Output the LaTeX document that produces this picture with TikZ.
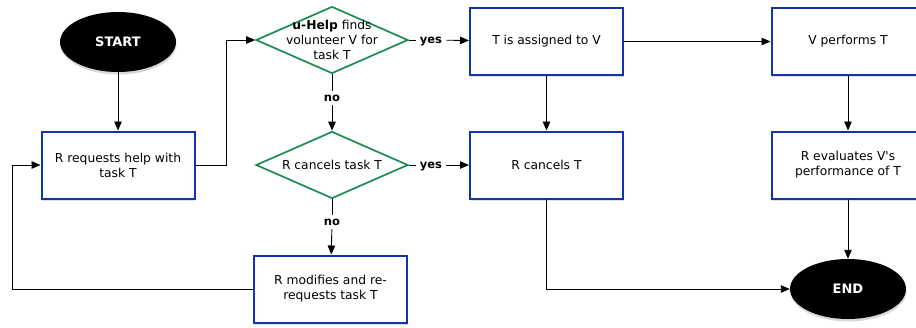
\documentclass[tikz,border=0pt]{standalone}
\usepackage{fontspec}
\setsansfont{DejaVu Sans}
\usetikzlibrary{shapes.geometric,shadows,arrows.meta}
\definecolor{boxblue}{RGB}{16,52,170}
\definecolor{decgreen}{RGB}{28,140,82}

\begin{document}
\begin{tikzpicture}[
x=1pt, y=-1pt,
font=\sffamily\fontsize{12.3}{15}\selectfont,
every node/.style={align=center},
terminal/.style={ellipse, fill=black, text=white, font=\sffamily\bfseries\fontsize{13}{15}\selectfont, minimum width=116pt, minimum height=60pt, drop shadow={shadow xshift=0.5pt, shadow yshift=-2.5pt, opacity=.3}},
process/.style={rectangle, draw=boxblue, line width=2pt, fill=white, minimum width=153pt, minimum height=67pt, drop shadow={shadow xshift=0.5pt, shadow yshift=-2pt, opacity=.25}},
decision/.style={diamond, draw=decgreen, line width=1.7pt, fill=white, aspect=2.27, inner sep=0pt, minimum width=152pt, minimum height=67pt},
answer/.style={font=\sffamily\bfseries\fontsize{11.5}{13}\selectfont, inner sep=4pt, text depth=0pt},
flow/.style={-{Triangle[length=9pt,width=7.5pt]}, line width=0.9pt}
]
\useasboundingbox (0,0) rectangle (916,327);

\node[terminal] (start) at (118,42) {START};
\node[process] (request) at (118,165) {R requests help with\\task T};
\node[decision, label={[align=center]center:{\textbf{u-Help} finds\\volunteer V for\\task T}}] (find) at (332,40) {};
\node[answer] (yesfind) at (431,40) {yes};
\node[answer] (nofind) at (332,98) {no};
\node[decision, label={center:R cancels task T}] (cancel) at (332,165) {};
\node[answer] (yescancel) at (431,165) {yes};
\node[answer] (nocancel) at (332,222) {no};
\node[process] (modify) at (330.5,289) {R modifies and re-\\requests task T};
\node[process] (assign) at (546.5,41.5) {T is assigned to V};
\node[process] (drop) at (546.5,165) {R cancels T};
\node[process] (perform) at (848,41.5) {V performs T};
\node[process] (evaluate) at (848,165) {R evaluates V\textquotesingle s\\performance of T};
\node[terminal] (finish) at (848,289) {END};
\coordinate (back) at (12,289);

\draw[flow] (start) -- (request);
\draw[flow] (request.east) -- ++(31,0) |- (find.west);
\draw (find.east) -- (yesfind);
\draw[flow] (yesfind) -- (assign);
\draw (find.south) -- (nofind);
\draw[flow] (nofind) -- (cancel.north);
\draw (cancel.east) -- (yescancel);
\draw[flow] (yescancel) -- (drop);
\draw (cancel.south) -- (nocancel);
\draw[flow] (nocancel) -- (modify);
\draw[flow] (assign) -- (perform);
\draw[flow] (assign) -- (drop);
\draw[flow] (perform) -- (evaluate);
\draw[flow] (evaluate) -- (finish);
\draw[flow] (drop.south) |- (finish.west);
\draw[flow] (modify.west) -- (back) |- (request.west);
\end{tikzpicture}
\end{document}
